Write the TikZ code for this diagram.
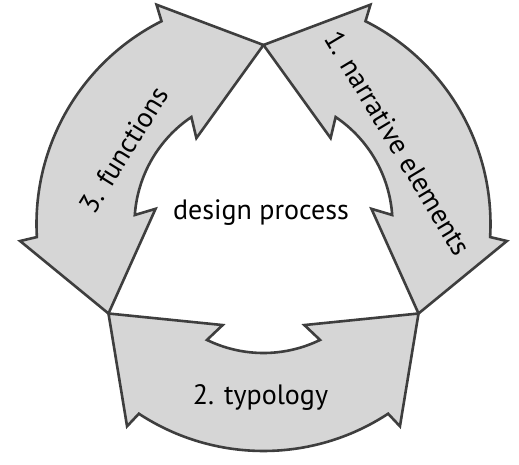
\documentclass[tikz,border=0pt]{standalone}
\usepackage{fontspec}
\setmainfont{PT Sans}
\usepackage{xcolor}
\usepackage{tikz}
\definecolor{bandfill}{RGB}{214,214,214}
\definecolor{bandline}{RGB}{62,62,62}

\begin{document}
\begin{tikzpicture}[x=1pt, y=1pt, font=\fontsize{28}{32}\selectfont]
      \tikzstyle{band}=[fill=bandfill, draw=bandline, line width=2.6pt, line join=miter]

      \useasboundingbox (-263.5,-241) rectangle (255.5,224);

      % one double headed band per third of the circle
      \foreach \a in {0,120,240}
        \draw[band] ({\a+210}:179) -- ({\a+236}:244) -- ({\a+236.7}:227)
          arc[start angle=\a+236.7, end angle=\a+303.3, radius=227pt]
          -- ({\a+304}:244) -- ({\a+330}:179) -- ({\a+292}:109) -- ({\a+296}:129)
          arc[start angle=\a+296, end angle=\a+244, radius=129pt]
          -- ({\a+248}:109) -- cycle;

      \node[anchor=base] (core) at (-2.5,4) {design process};
      \node[anchor=base] (typo) at (-3,-181) {2. typology};
      \node[rotate=-59] (narr) at (31:157) {1. narrative elements};
      \node[rotate=58] (func) at (152:158) {3. functions};

\end{tikzpicture}
\end{document}
